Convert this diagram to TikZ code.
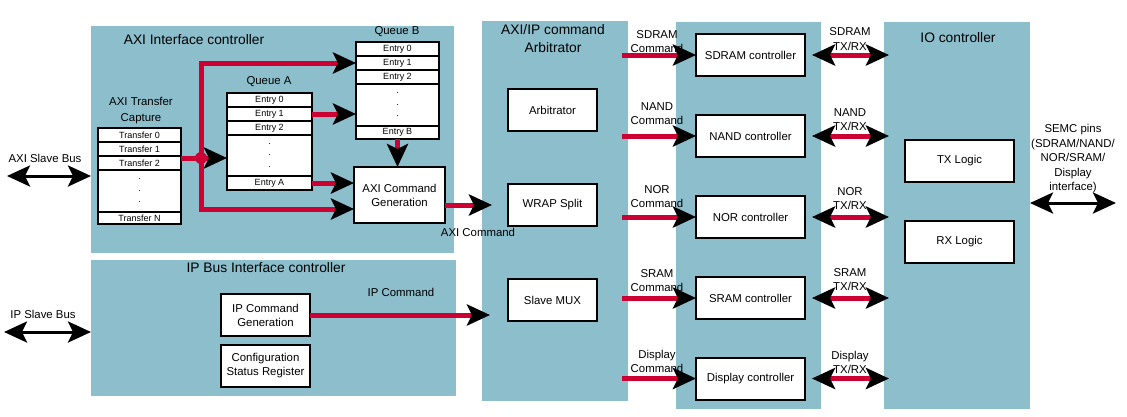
\documentclass[tikz,border=0pt]{standalone}
\usepackage{fontspec}
\setmainfont{Liberation Sans}
\usetikzlibrary{arrows.meta}
\definecolor{bgblue}{RGB}{140,190,204}
\definecolor{cmdred}{RGB}{204,0,51}

\begin{document}
\begin{tikzpicture}[x=1pt, y=-1pt,
  bg/.style={fill=bgblue, draw=none, inner sep=0pt, outer sep=0pt, anchor=north west},
  blk/.style={draw, line width=2pt, fill=white, minimum width=89pt, minimum height=42pt, inner sep=1pt, outer sep=0pt, align=center, font=\fontsize{11.4}{14}\selectfont},
  row/.style={draw, line width=1.5pt, fill=white, inner sep=0pt, outer sep=0pt, minimum height=14pt, anchor=north, font=\fontsize{9}{11.5}\selectfont},
  dots/.style={align=center, inner sep=0pt, font=\fontsize{9}{11.5}\selectfont},
  lbl/.style={align=center, inner sep=0pt, font=\fontsize{11.4}{14.5}\selectfont},
  ttl/.style={align=center, inner sep=0pt, font=\fontsize{13.8}{18}\selectfont},
  bighead/.tip={Stealth[length=23pt, width=21pt, inset=5pt, black]},
  cmd/.style={draw=cmdred, line width=5pt, -{bighead}},
  txrx/.style={draw=cmdred, line width=5pt, {bighead}-{bighead}},
  bus/.style={draw=black, line width=3pt, {bighead}-{bighead}}]
\useasboundingbox (0,0) rectangle (1127,416);

% background panels
\node[bg, minimum width=363pt, minimum height=227pt] (axibg) at (91,26) {};
\node[bg, minimum width=365pt, minimum height=136pt] (ipbg) at (91,260) {};
\node[bg, minimum width=146pt, minimum height=380pt] (arbbg) at (482,21) {};
\node[bg, minimum width=145pt, minimum height=387pt] (ctrlbg) at (676,22) {};
\node[bg, minimum width=146pt, minimum height=387pt] (iobg) at (884,22) {};

\node[ttl] (axittl) at (194,40) {AXI Interface controller};
\node[ttl] (ipttl) at (266,268) {IP Bus Interface controller};
\node[ttl] (arbttl) at (553,39) {AXI/IP command\\Arbitrator};
\node[ttl] (iottl) at (958,38) {IO controller};

% AXI transfer capture
\node[lbl, font=\fontsize{11.4}{16}\selectfont] (tcttl) at (141,111) {AXI Transfer\\Capture};
\node[row, minimum width=83pt, anchor=north west] (tc0) at (98,128) {Transfer 0};
\node[row, minimum width=83pt] (tc1) at (tc0.south) {Transfer 1};
\node[row, minimum width=83pt] (tc2) at (tc1.south) {Transfer 2};
\node[row, minimum width=83pt, minimum height=42pt] (tcd) at (tc2.south) {};
\node[row, minimum width=83pt, minimum height=12pt] (tcN) at (tcd.south) {Transfer N};
\node[dots] at (tcd) {.\\.\\.};
\draw[line width=2pt] (tc0.north west) rectangle (tcN.south east);

% queue A
\node[lbl] (qattl) at (269,82) {Queue A};
\node[row, minimum width=85pt, anchor=north west] (qa0) at (227,93) {Entry 0};
\node[row, minimum width=85pt] (qa1) at (qa0.south) {Entry 1};
\node[row, minimum width=85pt] (qa2) at (qa1.south) {Entry 2};
\node[row, minimum width=85pt, minimum height=41pt] (qad) at (qa2.south) {};
\node[row, minimum width=85pt] (qaA) at (qad.south) {Entry A};
\node[dots] at (qad) {.\\.\\.};
\draw[line width=2pt] (qa0.north west) rectangle (qaA.south east);

% queue B
\node[lbl] (qbttl) at (397,32) {Queue B};
\node[row, minimum width=83pt, anchor=north west] (qb0) at (356,42) {Entry 0};
\node[row, minimum width=83pt] (qb1) at (qb0.south) {Entry 1};
\node[row, minimum width=83pt] (qb2) at (qb1.south) {Entry 2};
\node[row, minimum width=83pt, minimum height=42pt] (qbd) at (qb2.south) {};
\node[row, minimum width=83pt, minimum height=13pt] (qbB) at (qbd.south) {Entry B};
\node[dots] at (qbd) {.\\.\\.};
\draw[line width=2pt] (qb0.north west) rectangle (qbB.south east);

\node[blk, minimum width=91pt, minimum height=56pt] (axigen) at (399.5,195) {AXI Command\\Generation};

% IP bus side
\node[blk] (ipgen) at (265.5,315) {IP Command\\Generation};
\node[blk] (csr) at (265.5,365.5) {Configuration\\Status Register};

% arbitrator column
\node[blk] (arb) at (552.5,110) {Arbitrator};
\node[blk] (wrap) at (552.5,205) {WRAP Split};
\node[blk] (smux) at (552.5,300) {Slave MUX};

% memory controllers
\node[blk, minimum width=109pt] (sdram) at (750.5,55) {SDRAM controller};
\node[blk, minimum width=109pt] (nand) at (750.5,136) {NAND controller};
\node[blk, minimum width=109pt] (nor) at (750.5,217) {NOR controller};
\node[blk, minimum width=109pt] (sram) at (750.5,298) {SRAM controller};
\node[blk, minimum width=109pt] (disp) at (750.5,378.5) {Display controller};

% IO controller
\node[blk, minimum width=109pt] (txl) at (959.5,161) {TX Logic};
\node[blk, minimum width=109pt] (rxl) at (959.5,242) {RX Logic};

% labels
\node[lbl] (axisb) at (45,158) {AXI Slave Bus};
\node[lbl] (ipsb) at (43,314) {IP Slave Bus};
\node[lbl] (axicmd) at (478,232) {AXI Command};
\node[lbl] (ipcmd) at (401,292) {IP Command};
\node[lbl] (sdcmd) at (657,41.5) {SDRAM\\Command};
\node[lbl] (nacmd) at (657,113.5) {NAND\\Command};
\node[lbl] (nocmd) at (657,196.5) {NOR\\Command};
\node[lbl] (srcmd) at (657,280.5) {SRAM\\Command};
\node[lbl] (dicmd) at (657,361.5) {Display\\Command};
\node[lbl] (sdio) at (850,39) {SDRAM\\TX/RX};
\node[lbl] (naio) at (850,119.5) {NAND\\TX/RX};
\node[lbl] (noio) at (850,198.5) {NOR\\TX/RX};
\node[lbl] (srio) at (850,279.5) {SRAM\\TX/RX};
\node[lbl] (diio) at (850,362.5) {Display\\TX/RX};
\node[lbl] (pins) at (1073,159) {SEMC pins\\(SDRAM/NAND/\\NOR/SRAM/\\Display\\interface)};

% free ends
\coordinate (axiin) at (7,176);
\coordinate (ipin) at (4,332);
\coordinate (pinout) at (1116,203);
\coordinate (jn) at (201,158);
\coordinate (cmdx) at (622,0);
\coordinate (axitip) at (492,0);
\coordinate (iptip) at (490,0);
\coordinate (rxa) at (812,0);
\coordinate (rxb) at (889,0);

% buses
\draw[bus] (axiin) -- (axiin -| axibg.west);
\draw[bus] (ipin) -- (ipin -| ipbg.west);
\draw[bus] (pinout -| iobg.east) -- (pinout);

% AXI side commands
\draw[draw=cmdred, line width=5pt] (jn -| tc2.east) -- (jn);
\draw[cmd] (jn) -- (jn -| qa0.west);
\draw[cmd] (jn) |- (qb1.west);
\draw[cmd] (jn) |- ([yshift=-14pt]axigen.west);
\fill[cmdred] (jn) circle (6pt);
\draw[cmd] (qa1.east) -- (qa1.east -| qb0.west);
\draw[cmd] (qaA.east) -- (qaA.east -| axigen.west);
\draw[cmd] (qbB.south) -- (qbB.south |- axigen.north);
\draw[cmd] (axigen.east |- wrap) -- (axitip |- wrap);
\draw[cmd] (ipgen.east) -- (iptip |- ipgen.east);

% controller commands
\draw[cmd] (cmdx |- sdram) -- (sdram.west);
\draw[cmd] (cmdx |- nand) -- (nand.west);
\draw[cmd] (cmdx |- nor) -- (nor.west);
\draw[cmd] (cmdx |- sram) -- (sram.west);
\draw[cmd] (cmdx |- disp) -- (disp.west);

\draw[txrx] (rxa |- sdram) -- (rxb |- sdram);
\draw[txrx] (rxa |- nand) -- (rxb |- nand);
\draw[txrx] (rxa |- nor) -- (rxb |- nor);
\draw[txrx] (rxa |- sram) -- (rxb |- sram);
\draw[txrx] (rxa |- disp) -- (rxb |- disp);

\end{tikzpicture}
\end{document}
